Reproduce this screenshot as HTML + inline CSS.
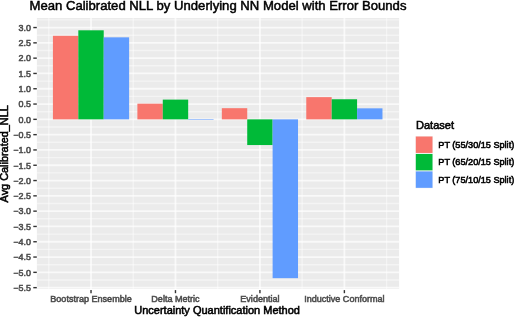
<!DOCTYPE html>
<html><head><meta charset="utf-8"><title>Mean Calibrated NLL</title>
<style>html,body{margin:0;padding:0;background:#fff}svg{display:block}text{font-family:"Liberation Sans",Arial,sans-serif;stroke-width:0.55px;paint-order:stroke}</style></head><body>
<svg width="520" height="317" viewBox="0 0 520 317">
<defs><filter id="soft" x="0" y="0" width="520" height="317" filterUnits="userSpaceOnUse"><feGaussianBlur stdDeviation="0.45"/></filter></defs>
<rect width="520" height="317" fill="#fff"/>
<g filter="url(#soft)">
<rect width="520" height="317" fill="#fff"/>
<rect x="36.9" y="18.0" width="362.20" height="271.00" fill="#EBEBEB"/>
<g stroke="#fff" stroke-width="1.4" stroke-opacity="0.45">
<line x1="36.9" x2="399.1" y1="280.00" y2="280.00"/>
<line x1="36.9" x2="399.1" y1="264.70" y2="264.70"/>
<line x1="36.9" x2="399.1" y1="249.40" y2="249.40"/>
<line x1="36.9" x2="399.1" y1="234.10" y2="234.10"/>
<line x1="36.9" x2="399.1" y1="218.80" y2="218.80"/>
<line x1="36.9" x2="399.1" y1="203.50" y2="203.50"/>
<line x1="36.9" x2="399.1" y1="188.20" y2="188.20"/>
<line x1="36.9" x2="399.1" y1="172.90" y2="172.90"/>
<line x1="36.9" x2="399.1" y1="157.60" y2="157.60"/>
<line x1="36.9" x2="399.1" y1="142.30" y2="142.30"/>
<line x1="36.9" x2="399.1" y1="127.00" y2="127.00"/>
<line x1="36.9" x2="399.1" y1="111.70" y2="111.70"/>
<line x1="36.9" x2="399.1" y1="96.40" y2="96.40"/>
<line x1="36.9" x2="399.1" y1="81.10" y2="81.10"/>
<line x1="36.9" x2="399.1" y1="65.80" y2="65.80"/>
<line x1="36.9" x2="399.1" y1="50.50" y2="50.50"/>
<line x1="36.9" x2="399.1" y1="35.20" y2="35.20"/>
<line x1="36.9" x2="399.1" y1="19.90" y2="19.90"/>
<line x1="48.80" x2="48.80" y1="18.0" y2="289.0"/>
<line x1="133.25" x2="133.25" y1="18.0" y2="289.0"/>
<line x1="217.70" x2="217.70" y1="18.0" y2="289.0"/>
<line x1="302.15" x2="302.15" y1="18.0" y2="289.0"/>
<line x1="386.60" x2="386.60" y1="18.0" y2="289.0"/>
</g>
<g stroke="#fff" stroke-width="1.8" stroke-opacity="0.7">
<line x1="36.9" x2="399.1" y1="287.65" y2="287.65"/>
<line x1="36.9" x2="399.1" y1="272.35" y2="272.35"/>
<line x1="36.9" x2="399.1" y1="257.05" y2="257.05"/>
<line x1="36.9" x2="399.1" y1="241.75" y2="241.75"/>
<line x1="36.9" x2="399.1" y1="226.45" y2="226.45"/>
<line x1="36.9" x2="399.1" y1="211.15" y2="211.15"/>
<line x1="36.9" x2="399.1" y1="195.85" y2="195.85"/>
<line x1="36.9" x2="399.1" y1="180.55" y2="180.55"/>
<line x1="36.9" x2="399.1" y1="165.25" y2="165.25"/>
<line x1="36.9" x2="399.1" y1="149.95" y2="149.95"/>
<line x1="36.9" x2="399.1" y1="134.65" y2="134.65"/>
<line x1="36.9" x2="399.1" y1="119.35" y2="119.35"/>
<line x1="36.9" x2="399.1" y1="104.05" y2="104.05"/>
<line x1="36.9" x2="399.1" y1="88.75" y2="88.75"/>
<line x1="36.9" x2="399.1" y1="73.45" y2="73.45"/>
<line x1="36.9" x2="399.1" y1="58.15" y2="58.15"/>
<line x1="36.9" x2="399.1" y1="42.85" y2="42.85"/>
<line x1="36.9" x2="399.1" y1="27.55" y2="27.55"/>
<line x1="91.02" x2="91.02" y1="18.0" y2="289.0"/>
<line x1="175.47" x2="175.47" y1="18.0" y2="289.0"/>
<line x1="259.93" x2="259.93" y1="18.0" y2="289.0"/>
<line x1="344.38" x2="344.38" y1="18.0" y2="289.0"/>
</g>
<rect x="52.92" y="35.81" width="25.40" height="83.54" fill="#F8766D"/>
<rect x="78.32" y="30.30" width="25.40" height="89.05" fill="#00BA38"/>
<rect x="103.72" y="37.34" width="25.40" height="82.01" fill="#619CFF"/>
<rect x="137.38" y="103.68" width="25.40" height="15.67" fill="#F8766D"/>
<rect x="162.78" y="99.61" width="25.40" height="19.74" fill="#00BA38"/>
<rect x="188.17" y="119.35" width="25.40" height="0.55" fill="#619CFF"/>
<rect x="221.83" y="108.18" width="25.40" height="11.17" fill="#F8766D"/>
<rect x="247.23" y="119.35" width="25.40" height="25.70" fill="#00BA38"/>
<rect x="272.62" y="119.35" width="25.40" height="158.81" fill="#619CFF"/>
<rect x="306.27" y="97.13" width="25.40" height="22.22" fill="#F8766D"/>
<rect x="331.68" y="99.25" width="25.40" height="20.10" fill="#00BA38"/>
<rect x="357.07" y="108.33" width="25.40" height="11.02" fill="#619CFF"/>
<g stroke="#333" stroke-width="1.4">
<line x1="33.30" x2="36.80" y1="287.65" y2="287.65"/>
<line x1="33.30" x2="36.80" y1="272.35" y2="272.35"/>
<line x1="33.30" x2="36.80" y1="257.05" y2="257.05"/>
<line x1="33.30" x2="36.80" y1="241.75" y2="241.75"/>
<line x1="33.30" x2="36.80" y1="226.45" y2="226.45"/>
<line x1="33.30" x2="36.80" y1="211.15" y2="211.15"/>
<line x1="33.30" x2="36.80" y1="195.85" y2="195.85"/>
<line x1="33.30" x2="36.80" y1="180.55" y2="180.55"/>
<line x1="33.30" x2="36.80" y1="165.25" y2="165.25"/>
<line x1="33.30" x2="36.80" y1="149.95" y2="149.95"/>
<line x1="33.30" x2="36.80" y1="134.65" y2="134.65"/>
<line x1="33.30" x2="36.80" y1="119.35" y2="119.35"/>
<line x1="33.30" x2="36.80" y1="104.05" y2="104.05"/>
<line x1="33.30" x2="36.80" y1="88.75" y2="88.75"/>
<line x1="33.30" x2="36.80" y1="73.45" y2="73.45"/>
<line x1="33.30" x2="36.80" y1="58.15" y2="58.15"/>
<line x1="33.30" x2="36.80" y1="42.85" y2="42.85"/>
<line x1="33.30" x2="36.80" y1="27.55" y2="27.55"/>
<line x1="91.02" x2="91.02" y1="290.1" y2="293.2"/>
<line x1="175.47" x2="175.47" y1="290.1" y2="293.2"/>
<line x1="259.93" x2="259.93" y1="290.1" y2="293.2"/>
<line x1="344.38" x2="344.38" y1="290.1" y2="293.2"/>
</g>
<g font-size="8.95" fill="#4D4D4D" stroke="#4D4D4D" style="stroke-width:0.4px" text-anchor="end">
<text x="31.0" y="290.90">−5.5</text>
<text x="31.0" y="275.60">−5.0</text>
<text x="31.0" y="260.30">−4.5</text>
<text x="31.0" y="245.00">−4.0</text>
<text x="31.0" y="229.70">−3.5</text>
<text x="31.0" y="214.40">−3.0</text>
<text x="31.0" y="199.10">−2.5</text>
<text x="31.0" y="183.80">−2.0</text>
<text x="31.0" y="168.50">−1.5</text>
<text x="31.0" y="153.20">−1.0</text>
<text x="31.0" y="137.90">−0.5</text>
<text x="31.0" y="122.60">0.0</text>
<text x="31.0" y="107.30">0.5</text>
<text x="31.0" y="92.00">1.0</text>
<text x="31.0" y="76.70">1.5</text>
<text x="31.0" y="61.40">2.0</text>
<text x="31.0" y="46.10">2.5</text>
<text x="31.0" y="30.80">3.0</text>
</g>
<g font-size="9.05" fill="#4D4D4D" stroke="#4D4D4D" style="stroke-width:0.3px" text-anchor="middle">
<text x="91.02" y="301.8">Bootstrap Ensemble</text>
<text x="175.47" y="301.8">Delta Metric</text>
<text x="259.93" y="301.8">Evidential</text>
<text x="344.38" y="301.8">Inductive Conformal</text>
</g>
<text x="217.10" y="314.3" font-size="11.0" text-anchor="middle" fill="#000" stroke="#000">Uncertainty Quantification Method</text>
<text transform="translate(8.2,153.8) rotate(-90)" font-size="10.9" text-anchor="middle" fill="#000" stroke="#000">Avg Calibrated_NLL</text>
<text x="218.00" y="9.8" font-size="13.12" text-anchor="middle" fill="#000" stroke="#000" style="stroke-width:0.5px">Mean Calibrated NLL by Underlying NN Model with Error Bounds</text>
<text x="416" y="129.1" font-size="11.05" fill="#000" stroke="#000">Dataset</text>
<rect x="415.4" y="136.00" width="17.5" height="17.45" fill="#F4F4F4"/>
<rect x="415.8" y="136.50" width="16.7" height="16.45" fill="#F8766D"/>
<text x="438.3" y="148.00" font-size="9.15" fill="#000" stroke="#000">PT (55/30/15 Split)</text>
<rect x="415.4" y="153.45" width="17.5" height="17.45" fill="#F4F4F4"/>
<rect x="415.8" y="153.95" width="16.7" height="16.45" fill="#00BA38"/>
<text x="438.3" y="165.45" font-size="9.15" fill="#000" stroke="#000">PT (65/20/15 Split)</text>
<rect x="415.4" y="170.90" width="17.5" height="17.45" fill="#F4F4F4"/>
<rect x="415.8" y="171.40" width="16.7" height="16.45" fill="#619CFF"/>
<text x="438.3" y="182.90" font-size="9.15" fill="#000" stroke="#000">PT (75/10/15 Split)</text>
</g>
</svg></body></html>
